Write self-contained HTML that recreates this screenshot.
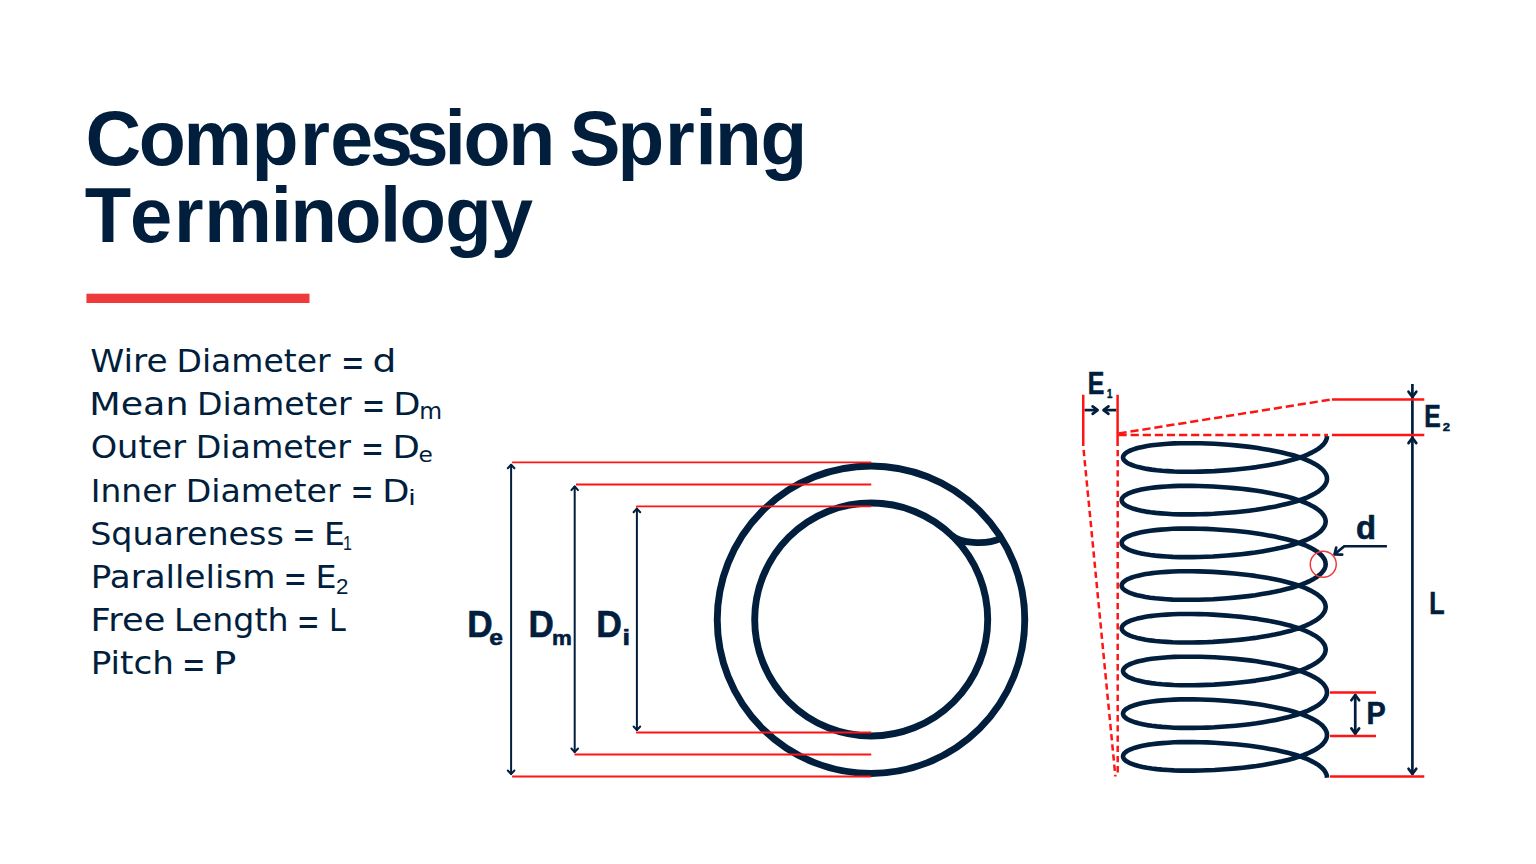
<!DOCTYPE html>
<html lang="en"><head><meta charset="utf-8"><title>Compression Spring Terminology</title>
<style>html,body{margin:0;padding:0;background:#fff;overflow:hidden}svg{display:block}text{font-family:'Liberation Sans', sans-serif;fill:#011e3d}text.lt{font-family:'DejaVu Sans', 'Liberation Sans', sans-serif}text.bl{stroke:#011e3d;stroke-width:0.6px;stroke-linejoin:round}</style></head><body>
<svg width="1536" height="864" viewBox="0 0 1536 864">
<rect width="1536" height="864" fill="#fff"/>
<rect x="86.4" y="293.7" width="223.1" height="9.3" fill="#ef3a3b"/>
<g id="title"><text transform="translate(0 165.2) scale(0.9788 1)" x="87.34 141.82 187.60 257.08 306.39 337.52 378.10 414.52 454.03 473.65 519.22" y="0" font-size="78.7" font-weight="700">Compression</text>
<text transform="translate(0 165.2) scale(0.9719 1)" x="586.04 635.37 684.15 715.55 735.61 782.60" y="0" font-size="78.7" font-weight="700">Spring</text>
<text transform="translate(0 241.6) scale(0.9651 1)" x="87.73 134.72 180.37 211.63 280.65 301.00 347.10 393.85 414.03 461.24 508.51" y="0" font-size="78.7" font-weight="700">Terminology</text></g>
<g id="list"><text class="lt" transform="translate(90.28 371.80) scale(1.0591 1.0000)" font-size="32.5" font-weight="400">Wire</text>
<text class="lt" transform="translate(176.45 371.80) scale(1.0168 1.0000)" font-size="32.5" font-weight="400">Diameter</text>
<text class="lt" transform="translate(340.88 374.62) scale(0.8642 1.1405)" font-size="32.5" font-weight="400">=</text>
<text class="lt" transform="translate(372.48 371.80) scale(1.1562 1.0000)" font-size="32.5" font-weight="400">d</text>
<text class="lt" transform="translate(89.26 414.90) scale(1.1212 1.0000)" font-size="32.5" font-weight="400">Mean</text>
<text class="lt" transform="translate(197.09 414.90) scale(1.0192 1.0000)" font-size="32.5" font-weight="400">Diameter</text>
<text class="lt" transform="translate(361.73 417.72) scale(0.8642 1.1405)" font-size="32.5" font-weight="400">=</text>
<text class="lt" transform="translate(393.21 414.90) scale(1.0886 1.0000)" font-size="32.5" font-weight="400">D</text>
<text class="lt" transform="translate(90.69 458.10) scale(1.0331 1.0000)" font-size="32.5" font-weight="400">Outer</text>
<text class="lt" transform="translate(195.78 458.10) scale(1.0229 1.0000)" font-size="32.5" font-weight="400">Diameter</text>
<text class="lt" transform="translate(360.94 460.92) scale(0.8444 1.1405)" font-size="32.5" font-weight="400">=</text>
<text class="lt" transform="translate(392.45 458.10) scale(1.0937 1.0000)" font-size="32.5" font-weight="400">D</text>
<text class="lt" transform="translate(90.81 501.50) scale(1.0111 1.0000)" font-size="32.5" font-weight="400">Inner</text>
<text class="lt" transform="translate(185.78 501.50) scale(1.0212 1.0000)" font-size="32.5" font-weight="400">Diameter</text>
<text class="lt" transform="translate(350.52 504.32) scale(0.8519 1.1405)" font-size="32.5" font-weight="400">=</text>
<text class="lt" transform="translate(382.21 501.50) scale(1.0886 1.0000)" font-size="32.5" font-weight="400">D</text>
<text class="lt" transform="translate(90.19 544.50) scale(1.0257 1.0000)" font-size="32.5" font-weight="400">Squareness</text>
<text class="lt" transform="translate(292.27 547.32) scale(0.8519 1.1405)" font-size="32.5" font-weight="400">=</text>
<text class="lt" transform="translate(323.95 544.50) scale(1.0164 1.0000)" font-size="32.5" font-weight="400">E</text>
<text class="lt" transform="translate(90.68 587.75) scale(1.0509 1.0000)" font-size="32.5" font-weight="400">Parallelism</text>
<text class="lt" transform="translate(283.48 590.57) scale(0.8642 1.1405)" font-size="32.5" font-weight="400">=</text>
<text class="lt" transform="translate(315.41 587.75) scale(1.0262 1.0000)" font-size="32.5" font-weight="400">E</text>
<text class="lt" transform="translate(90.58 631.00) scale(1.0844 1.0000)" font-size="32.5" font-weight="400">Free</text>
<text class="lt" transform="translate(173.93 631.00) scale(1.0222 1.0000)" font-size="32.5" font-weight="400">Length</text>
<text class="lt" transform="translate(296.79 633.82) scale(0.8469 1.1405)" font-size="32.5" font-weight="400">=</text>
<text class="lt" transform="translate(328.88 631.00) scale(0.9288 1.0000)" font-size="32.5" font-weight="400">L</text>
<text class="lt" transform="translate(90.68 674.10) scale(1.0534 1.0000)" font-size="32.5" font-weight="400">Pitch</text>
<text class="lt" transform="translate(181.98 676.92) scale(0.8642 1.1405)" font-size="32.5" font-weight="400">=</text>
<text class="lt" transform="translate(213.16 674.10) scale(1.1803 1.0000)" font-size="32.5" font-weight="400">P</text>
<text class="lt" transform="translate(419.26 418.70) scale(1.0686 1.0041)" font-size="22" font-weight="400">m</text>
<text class="lt" transform="translate(418.43 461.85) scale(1.0591 1.0000)" font-size="22" font-weight="400">e</text>
<text transform="translate(408.70 505.00) scale(1.4569 1.1207)" font-size="20" font-weight="400">i</text>
<text transform="translate(343.04 550.00) scale(0.8462 1.0577)" font-size="19" font-weight="400">1</text>
<text transform="translate(336.07 593.50) scale(1.1765 1.1321)" font-size="19" font-weight="400">2</text></g>
<g fill="none" stroke="#011e3d" stroke-width="6.9">
<circle cx="871" cy="619.7" r="153.75"/><circle cx="871.2" cy="619.5" r="116.5"/>
<path d="M952.13,535.7 C959.3,542.65 985,545.5 1000.5,538.7"/>
</g>
<g fill="none" stroke="#011e3d" stroke-width="2" stroke-linecap="round" stroke-linejoin="round">
<path d="M511.1,464.7 V774.1"/><path d="M514.40,468.30 L511.10,464.70 L507.80,468.30"/><path d="M507.80,770.50 L511.10,774.10 L514.40,770.50"/>
<path d="M574.7,486.5 V752.1"/><path d="M578.00,490.10 L574.70,486.50 L571.40,490.10"/><path d="M571.40,748.50 L574.70,752.10 L578.00,748.50"/>
<path d="M636.9,508.6 V730.1"/><path d="M640.20,512.20 L636.90,508.60 L633.60,512.20"/><path d="M633.60,726.50 L636.90,730.10 L640.20,726.50"/>
</g>
<g fill="none" stroke="#ff1414" stroke-width="1.9">
<path d="M512.1,462.4 H871.25"/>
<path d="M576.0,484.5 H871.25"/>
<path d="M636.1,506.4 H871.25"/>
<path d="M636.1,732.5 H871.25"/>
<path d="M574.4,754.5 H871.25"/>
<path d="M512.1,776.5 H871.25"/>
</g>
<path d="M1327.0,436.1 L1326.8,438.3 L1326.0,440.5 L1324.8,442.6 L1323.1,444.8 L1320.9,446.8 L1318.2,448.9 L1315.1,450.8 L1311.5,452.7 L1307.5,454.6 L1303.2,456.3 L1298.4,458.0 L1293.3,459.6 L1287.8,461.0 L1282.1,462.4 L1276.0,463.7 L1269.7,464.9 L1263.2,466.0 L1256.5,467.1 L1249.7,468.0 L1242.7,468.8 L1235.7,469.5 L1228.6,470.1 L1221.5,470.6 L1214.4,471.1 L1207.3,471.4 L1200.4,471.6 L1193.5,471.7 L1186.8,471.7 L1180.3,471.7 L1174.0,471.5 L1168.0,471.1 L1162.2,470.7 L1156.8,470.2 L1151.7,469.6 L1146.9,468.9 L1142.5,468.0 L1138.5,467.1 L1135.0,466.1 L1131.9,465.0 L1129.2,463.9 L1127.0,462.7 L1125.3,461.4 L1124.0,460.1 L1123.3,458.8 L1123.0,457.5 L1123.3,456.1 L1124.0,454.8 L1125.3,453.5 L1127.0,452.2 L1129.2,451.0 L1131.9,449.9 L1135.0,448.8 L1138.5,447.8 L1142.5,446.9 L1146.9,446.0 L1151.7,445.3 L1156.8,444.7 L1162.2,444.2 L1168.0,443.8 L1174.0,443.4 L1180.3,443.2 L1186.8,443.2 L1193.5,443.2 L1200.4,443.3 L1207.3,443.5 L1214.4,443.8 L1221.5,444.3 L1228.6,444.8 L1235.7,445.4 L1242.7,446.1 L1249.7,446.9 L1256.5,447.8 L1263.2,448.9 L1269.7,450.0 L1276.0,451.2 L1282.1,452.5 L1287.8,453.9 L1293.3,455.3 L1298.4,456.9 L1303.2,458.6 L1307.5,460.3 L1311.5,462.2 L1315.1,464.1 L1318.2,466.0 L1320.9,468.1 L1323.1,470.1 L1324.8,472.3 L1326.0,474.4 L1326.8,476.6 L1327.0,478.8 L1326.8,481.0 L1326.0,483.2 L1324.8,485.3 L1323.0,487.5 L1320.8,489.5 L1318.1,491.6 L1315.0,493.5 L1311.4,495.4 L1307.4,497.3 L1303.0,499.0 L1298.2,500.7 L1293.0,502.3 L1287.5,503.7 L1281.7,505.1 L1275.7,506.4 L1269.3,507.6 L1262.8,508.7 L1256.1,509.8 L1249.2,510.7 L1242.2,511.5 L1235.1,512.2 L1227.9,512.8 L1220.8,513.3 L1213.6,513.8 L1206.5,514.1 L1199.5,514.3 L1192.6,514.4 L1185.9,514.4 L1179.4,514.4 L1173.0,514.2 L1167.0,513.8 L1161.2,513.4 L1155.7,512.9 L1150.5,512.3 L1145.7,511.6 L1141.3,510.7 L1137.3,509.8 L1133.7,508.8 L1130.6,507.7 L1127.9,506.6 L1125.7,505.4 L1123.9,504.1 L1122.7,502.8 L1122.0,501.5 L1121.7,500.2 L1121.9,498.8 L1122.7,497.5 L1123.9,496.2 L1125.7,494.9 L1127.9,493.7 L1130.5,492.6 L1133.6,491.5 L1137.2,490.5 L1141.2,489.6 L1145.6,488.7 L1150.3,488.0 L1155.4,487.4 L1160.9,486.9 L1166.7,486.5 L1172.7,486.1 L1179.0,485.9 L1185.5,485.9 L1192.2,485.9 L1199.0,486.0 L1206.0,486.2 L1213.0,486.5 L1220.1,487.0 L1227.2,487.5 L1234.3,488.1 L1241.4,488.8 L1248.4,489.6 L1255.2,490.5 L1261.9,491.6 L1268.4,492.7 L1274.7,493.9 L1280.7,495.2 L1286.5,496.6 L1291.9,498.0 L1297.0,499.6 L1301.8,501.3 L1306.2,503.0 L1310.2,504.9 L1313.7,506.8 L1316.8,508.7 L1319.5,510.8 L1321.7,512.8 L1323.4,515.0 L1324.7,517.1 L1325.4,519.3 L1325.7,521.5 L1325.4,523.7 L1324.7,525.9 L1323.4,528.0 L1321.7,530.2 L1319.5,532.2 L1316.8,534.3 L1313.7,536.2 L1310.2,538.1 L1306.2,540.0 L1301.8,541.7 L1297.0,543.4 L1291.9,545.0 L1286.5,546.4 L1280.7,547.8 L1274.7,549.1 L1268.4,550.3 L1261.9,551.4 L1255.2,552.5 L1248.4,553.4 L1241.4,554.2 L1234.3,554.9 L1227.2,555.5 L1220.1,556.0 L1213.0,556.5 L1206.0,556.8 L1199.0,557.0 L1192.2,557.1 L1185.5,557.1 L1179.0,557.1 L1172.7,556.9 L1166.7,556.5 L1160.9,556.1 L1155.4,555.6 L1150.3,555.0 L1145.6,554.3 L1141.2,553.4 L1137.2,552.5 L1133.6,551.5 L1130.5,550.4 L1127.9,549.3 L1125.7,548.1 L1123.9,546.8 L1122.7,545.5 L1121.9,544.2 L1121.7,542.9 L1121.9,541.5 L1122.7,540.2 L1123.9,538.9 L1125.7,537.6 L1127.9,536.4 L1130.5,535.3 L1133.6,534.2 L1137.2,533.2 L1141.2,532.3 L1145.6,531.4 L1150.3,530.7 L1155.4,530.1 L1160.9,529.6 L1166.7,529.2 L1172.7,528.8 L1179.0,528.6 L1185.5,528.6 L1192.2,528.6 L1199.0,528.7 L1206.0,528.9 L1213.0,529.2 L1220.1,529.7 L1227.2,530.2 L1234.3,530.8 L1241.4,531.5 L1248.4,532.3 L1255.2,533.2 L1261.9,534.3 L1268.4,535.4 L1274.7,536.6 L1280.7,537.9 L1286.5,539.3 L1291.9,540.7 L1297.0,542.3 L1301.8,544.0 L1306.2,545.7 L1310.2,547.6 L1313.7,549.5 L1316.8,551.4 L1319.5,553.5 L1321.7,555.5 L1323.4,557.7 L1324.7,559.8 L1325.4,562.0 L1325.7,564.2 L1325.4,566.4 L1324.7,568.6 L1323.4,570.7 L1321.7,572.9 L1319.5,574.9 L1316.8,577.0 L1313.7,578.9 L1310.2,580.8 L1306.2,582.7 L1301.8,584.4 L1297.0,586.1 L1291.9,587.7 L1286.5,589.1 L1280.7,590.5 L1274.7,591.8 L1268.4,593.0 L1261.9,594.1 L1255.2,595.2 L1248.4,596.1 L1241.4,596.9 L1234.3,597.6 L1227.2,598.2 L1220.1,598.7 L1213.0,599.2 L1206.0,599.5 L1199.0,599.7 L1192.2,599.8 L1185.5,599.8 L1179.0,599.8 L1172.7,599.6 L1166.7,599.2 L1160.9,598.8 L1155.4,598.3 L1150.3,597.7 L1145.6,597.0 L1141.2,596.1 L1137.2,595.2 L1133.6,594.2 L1130.5,593.1 L1127.9,592.0 L1125.7,590.8 L1123.9,589.5 L1122.7,588.2 L1121.9,586.9 L1121.7,585.6 L1121.9,584.2 L1122.7,582.9 L1123.9,581.6 L1125.7,580.3 L1127.9,579.1 L1130.5,578.0 L1133.6,576.9 L1137.2,575.9 L1141.2,575.0 L1145.6,574.1 L1150.3,573.4 L1155.4,572.8 L1160.9,572.3 L1166.7,571.9 L1172.7,571.5 L1179.0,571.3 L1185.5,571.3 L1192.2,571.3 L1199.0,571.4 L1206.0,571.6 L1213.0,571.9 L1220.1,572.4 L1227.2,572.9 L1234.3,573.5 L1241.4,574.2 L1248.4,575.0 L1255.2,575.9 L1261.9,577.0 L1268.4,578.1 L1274.7,579.3 L1280.7,580.6 L1286.5,582.0 L1291.9,583.4 L1297.0,585.0 L1301.8,586.7 L1306.2,588.4 L1310.2,590.3 L1313.7,592.2 L1316.8,594.1 L1319.5,596.2 L1321.7,598.2 L1323.4,600.4 L1324.7,602.5 L1325.4,604.7 L1325.7,606.9 L1325.4,609.1 L1324.7,611.3 L1323.4,613.4 L1321.7,615.6 L1319.5,617.6 L1316.8,619.7 L1313.7,621.6 L1310.2,623.5 L1306.2,625.4 L1301.8,627.1 L1297.0,628.8 L1291.9,630.4 L1286.5,631.8 L1280.7,633.2 L1274.7,634.5 L1268.4,635.7 L1261.9,636.8 L1255.2,637.9 L1248.4,638.8 L1241.4,639.6 L1234.3,640.3 L1227.2,640.9 L1220.1,641.4 L1213.0,641.9 L1206.0,642.2 L1199.0,642.4 L1192.2,642.5 L1185.5,642.5 L1179.0,642.5 L1172.7,642.3 L1166.7,641.9 L1160.9,641.5 L1155.4,641.0 L1150.3,640.4 L1145.6,639.7 L1141.2,638.8 L1137.2,637.9 L1133.6,636.9 L1130.5,635.8 L1127.9,634.7 L1125.7,633.5 L1123.9,632.2 L1122.7,630.9 L1121.9,629.6 L1121.7,628.3 L1121.9,626.9 L1122.7,625.6 L1123.9,624.3 L1125.7,623.0 L1127.9,621.8 L1130.5,620.7 L1133.6,619.6 L1137.2,618.6 L1141.2,617.7 L1145.6,616.8 L1150.3,616.1 L1155.4,615.5 L1160.9,615.0 L1166.7,614.6 L1172.7,614.2 L1179.0,614.0 L1185.5,614.0 L1192.2,614.0 L1199.0,614.1 L1206.0,614.3 L1213.0,614.6 L1220.1,615.1 L1227.2,615.6 L1234.3,616.2 L1241.4,616.9 L1248.4,617.7 L1255.2,618.6 L1261.9,619.7 L1268.4,620.8 L1274.7,622.0 L1280.7,623.3 L1286.5,624.7 L1291.9,626.1 L1297.0,627.7 L1301.8,629.4 L1306.2,631.1 L1310.2,633.0 L1313.7,634.9 L1316.8,636.8 L1319.5,638.9 L1321.7,640.9 L1323.4,643.1 L1324.7,645.2 L1325.4,647.4 L1325.7,649.6 L1325.4,651.8 L1324.7,654.0 L1323.4,656.1 L1321.7,658.3 L1319.6,660.3 L1316.9,662.4 L1313.8,664.3 L1310.3,666.2 L1306.3,668.1 L1302.0,669.8 L1297.2,671.5 L1292.2,673.1 L1286.7,674.5 L1281.0,675.9 L1275.0,677.2 L1268.8,678.4 L1262.3,679.5 L1255.7,680.6 L1248.9,681.5 L1242.0,682.3 L1234.9,683.0 L1227.9,683.6 L1220.8,684.1 L1213.8,684.6 L1206.8,684.9 L1199.8,685.1 L1193.0,685.2 L1186.4,685.2 L1179.9,685.2 L1173.7,685.0 L1167.7,684.6 L1162.0,684.2 L1156.6,683.7 L1151.5,683.1 L1146.7,682.4 L1142.4,681.5 L1138.4,680.6 L1134.9,679.6 L1131.8,678.5 L1129.2,677.4 L1127.0,676.2 L1125.3,674.9 L1124.0,673.6 L1123.3,672.3 L1123.0,671.0 L1123.3,669.6 L1124.0,668.3 L1125.3,667.0 L1127.0,665.7 L1129.2,664.5 L1131.9,663.4 L1135.0,662.3 L1138.5,661.3 L1142.5,660.4 L1146.9,659.5 L1151.7,658.8 L1156.8,658.2 L1162.2,657.7 L1168.0,657.3 L1174.0,656.9 L1180.3,656.7 L1186.8,656.7 L1193.5,656.7 L1200.4,656.8 L1207.3,657.0 L1214.4,657.3 L1221.5,657.8 L1228.6,658.3 L1235.7,658.9 L1242.7,659.6 L1249.7,660.4 L1256.5,661.3 L1263.2,662.4 L1269.7,663.5 L1276.0,664.7 L1282.1,666.0 L1287.8,667.4 L1293.3,668.8 L1298.4,670.4 L1303.2,672.1 L1307.5,673.8 L1311.5,675.7 L1315.1,677.6 L1318.2,679.5 L1320.9,681.6 L1323.1,683.6 L1324.8,685.8 L1326.0,687.9 L1326.8,690.1 L1327.0,692.3 L1326.8,694.5 L1326.0,696.7 L1324.8,698.8 L1323.1,701.0 L1320.9,703.0 L1318.2,705.1 L1315.1,707.0 L1311.5,708.9 L1307.5,710.8 L1303.2,712.5 L1298.4,714.2 L1293.3,715.8 L1287.8,717.2 L1282.1,718.6 L1276.0,719.9 L1269.7,721.1 L1263.2,722.2 L1256.5,723.3 L1249.7,724.2 L1242.7,725.0 L1235.7,725.7 L1228.6,726.3 L1221.5,726.8 L1214.4,727.3 L1207.3,727.6 L1200.4,727.8 L1193.5,727.9 L1186.8,727.9 L1180.3,727.9 L1174.0,727.7 L1168.0,727.3 L1162.2,726.9 L1156.8,726.4 L1151.7,725.8 L1146.9,725.1 L1142.5,724.2 L1138.5,723.3 L1135.0,722.3 L1131.9,721.2 L1129.2,720.1 L1127.0,718.9 L1125.3,717.6 L1124.0,716.3 L1123.3,715.0 L1123.0,713.7 L1123.3,712.3 L1124.0,711.0 L1125.3,709.7 L1127.0,708.4 L1129.2,707.2 L1131.9,706.1 L1135.0,705.0 L1138.5,704.0 L1142.5,703.1 L1146.9,702.2 L1151.7,701.5 L1156.8,700.9 L1162.2,700.4 L1168.0,700.0 L1174.0,699.6 L1180.3,699.4 L1186.8,699.4 L1193.5,699.4 L1200.4,699.5 L1207.3,699.7 L1214.4,700.0 L1221.5,700.5 L1228.6,701.0 L1235.7,701.6 L1242.7,702.3 L1249.7,703.1 L1256.5,704.0 L1263.2,705.1 L1269.7,706.2 L1276.0,707.4 L1282.1,708.7 L1287.8,710.1 L1293.3,711.5 L1298.4,713.1 L1303.2,714.8 L1307.5,716.5 L1311.5,718.4 L1315.1,720.3 L1318.2,722.2 L1320.9,724.3 L1323.1,726.3 L1324.8,728.5 L1326.0,730.6 L1326.8,732.8 L1327.0,735.0 L1326.8,737.2 L1326.0,739.4 L1324.8,741.5 L1323.1,743.7 L1320.9,745.7 L1318.2,747.8 L1315.1,749.7 L1311.5,751.6 L1307.5,753.5 L1303.2,755.2 L1298.4,756.9 L1293.3,758.5 L1287.8,759.9 L1282.1,761.3 L1276.0,762.6 L1269.7,763.8 L1263.2,764.9 L1256.5,766.0 L1249.7,766.9 L1242.7,767.7 L1235.7,768.4 L1228.6,769.0 L1221.5,769.5 L1214.4,770.0 L1207.3,770.3 L1200.4,770.5 L1193.5,770.6 L1186.8,770.6 L1180.3,770.6 L1174.0,770.4 L1168.0,770.0 L1162.2,769.6 L1156.8,769.1 L1151.7,768.5 L1146.9,767.8 L1142.5,766.9 L1138.5,766.0 L1135.0,765.0 L1131.9,763.9 L1129.2,762.8 L1127.0,761.6 L1125.3,760.3 L1124.0,759.0 L1123.3,757.7 L1123.0,756.4 L1123.3,755.0 L1124.0,753.7 L1125.3,752.4 L1127.0,751.1 L1129.2,749.9 L1131.9,748.8 L1135.0,747.7 L1138.5,746.7 L1142.5,745.8 L1146.9,744.9 L1151.7,744.2 L1156.8,743.6 L1162.2,743.1 L1168.0,742.7 L1174.0,742.3 L1180.3,742.1 L1186.8,742.1 L1193.5,742.1 L1200.4,742.2 L1207.3,742.4 L1214.4,742.7 L1221.5,743.2 L1228.6,743.7 L1235.7,744.3 L1242.7,745.0 L1249.7,745.8 L1256.5,746.7 L1263.2,747.8 L1269.7,748.9 L1276.0,750.1 L1282.1,751.4 L1287.8,752.8 L1293.3,754.2 L1298.4,755.8 L1303.2,757.5 L1307.5,759.2 L1311.5,761.1 L1315.1,763.0 L1318.2,764.9 L1320.9,767.0 L1323.1,769.0 L1324.8,771.2 L1326.0,773.3 L1326.8,775.5 L1327.0,777.7" fill="none" stroke="#011e3d" stroke-width="4.6" stroke-linejoin="round"/>
<g fill="none" stroke="#011e3d" stroke-width="2.7" stroke-linecap="round" stroke-linejoin="round">
<path d="M1412.4,383.9 V774.5" stroke-linecap="butt"/><path d="M1408.50,391.70 L1412.40,396.90 L1416.30,391.70"/><path d="M1416.30,443.10 L1412.40,437.90 L1408.50,443.10"/><path d="M1408.50,768.80 L1412.40,774.00 L1416.30,768.80"/>
<path d="M1355.25,695 V733.6"/><path d="M1359.15,700.20 L1355.25,695.00 L1351.35,700.20"/><path d="M1351.35,728.40 L1355.25,733.60 L1359.15,728.40"/>
<path d="M1084.5,410.1 H1097.5" stroke-linecap="butt"/><path d="M1092.60,413.80 L1097.60,410.10 L1092.60,406.40"/>
<path d="M1116.4,410.1 H1103.6" stroke-linecap="butt"/><path d="M1108.50,406.40 L1103.50,410.10 L1108.50,413.80"/>
<path d="M1386.9,546.25 H1344.25 L1334.6,554.3" stroke-linecap="butt"/><path d="M1336.2,547.6 L1334.5,554.5 L1342.2,554.6"/>
</g>
<g fill="none" stroke="#ff1414" stroke-width="2.5">
<path d="M1332,399.4 H1424.3"/><path d="M1332,435.1 H1424.3"/><path d="M1330,776.5 H1424.3"/>
<path d="M1330,692.5 H1376"/><path d="M1330,736 H1376"/>
<path d="M1083.25,394.75 V446"/><path d="M1117.6,394.75 V446"/>
<path d="M1083.25,446 L1115.4,776.5" stroke-dasharray="6.3 3.9" stroke-dashoffset="6.3" stroke-width="2.5"/>
<path d="M1117.7,446 V775" stroke-dasharray="6.3 3.9" stroke-dashoffset="6.3" stroke-width="2.5"/>
<path d="M1118.5,435.1 H1328" stroke-dasharray="8.2 3.9" stroke-width="2.5"/>
<path d="M1118.5,433.5 L1331,399.5" stroke-dasharray="8.2 3.9" stroke-width="2.5"/>
<circle cx="1323.25" cy="564.25" r="13" stroke-width="1.5" stroke="#ef3a3b"/>
</g>
<g id="labels"><text class="bl" transform="translate(467.26 636.50) scale(0.9773 1.0283)" font-size="36" font-weight="700">D</text>
<text class="bl" transform="translate(489.36 645.45) scale(1.1163 1.0125)" font-size="22" font-weight="700">e</text>
<text class="bl" transform="translate(528.56 636.50) scale(0.9750 1.0283)" font-size="36" font-weight="700">D</text>
<text class="bl" transform="translate(551.98 645.45) scale(1.0149 0.9404)" font-size="22" font-weight="700">m</text>
<text class="bl" transform="translate(596.33 636.50) scale(0.9864 1.0283)" font-size="36" font-weight="700">D</text>
<text class="bl" transform="translate(622.45 644.60) scale(1.2333 1.0187)" font-size="22" font-weight="700">i</text>
<text class="bl" transform="translate(1087.79 394.20) scale(0.8029 0.9882)" font-size="31" font-weight="700">E</text>
<text class="bl" transform="translate(1106.95 398.45) scale(0.7467 0.9333)" font-size="13" font-weight="700">1</text>
<text class="bl" transform="translate(1424.14 427.20) scale(0.7962 0.9953)" font-size="31" font-weight="700">E</text>
<text class="bl" transform="translate(1442.80 431.30) scale(1.0080 0.8611)" font-size="13" font-weight="700">2</text>
<text class="bl" transform="translate(1356.06 538.75) scale(0.9940 0.9938)" font-size="33" font-weight="700">d</text>
<text class="bl" transform="translate(1429.36 613.70) scale(0.8094 1.0118)" font-size="31" font-weight="700">L</text>
<text class="bl" transform="translate(1366.44 724.30) scale(0.9314 1.0118)" font-size="31" font-weight="700">P</text></g>
</svg></body></html>
